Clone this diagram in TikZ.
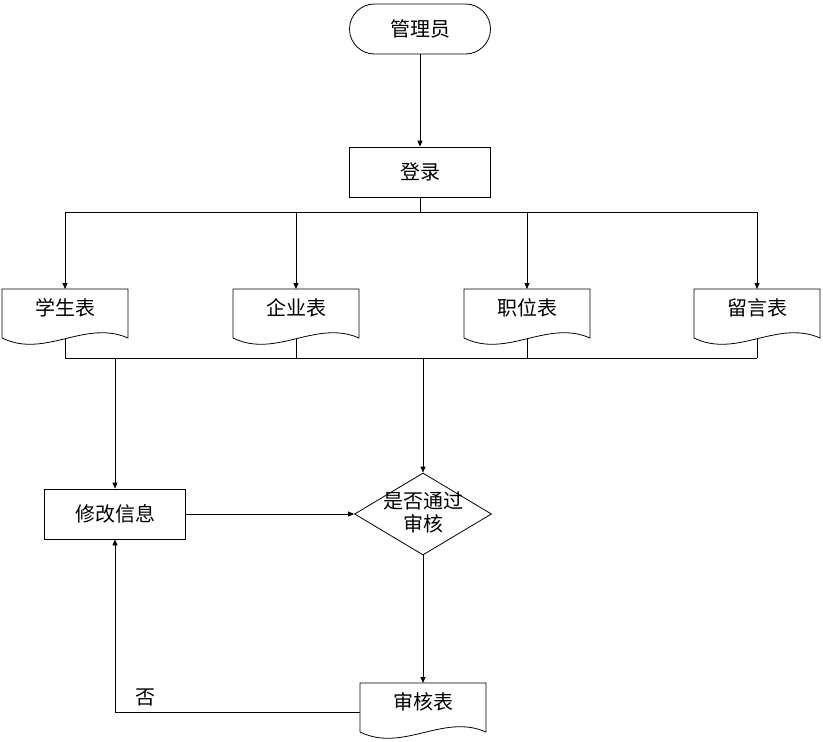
\documentclass[tikz,border=0pt]{standalone}
\usepackage{fontspec}
\setmainfont{Noto Sans CJK SC}
\usetikzlibrary{shapes.geometric,arrows.meta}
\newcommand\mydoc[4]{%
  \node[draw=none,minimum width=126pt,minimum height=49pt,anchor=north,inner sep=0] (#1) at (#2,#3) {};
  \node[txt] at (#2,#3+19) {#4};
  \draw[line] (#2-63,#3+49) -- (#2-63,#3) -- (#2+63,#3) -- (#2+63,#3+49)
     .. controls (#2+20,#3+30) and (#2-20,#3+70) .. (#2-63,#3+49);
  \coordinate (#1b) at (#2,#3+50);
}
\begin{document}
\begin{tikzpicture}[x=1pt,y=-1pt,
  line/.style={draw=black,line width=0.8pt},
  txt/.style={font=\fontsize{20}{23}\selectfont,inner sep=0},
  box/.style={line,minimum width=141pt,minimum height=50pt,inner sep=0,font=\fontsize{20}{23}\selectfont},
  arr/.style={line,-{Triangle[length=6pt,width=5pt]}}]
\useasboundingbox (0,0) rectangle (823,742);
\node[box,rounded corners=25pt] (adm) at (420,29) {管理员};
\node[box] (login) at (420,172) {登录};
\mydoc{d1}{65}{289}{学生表}
\mydoc{d2}{296}{289}{企业表}
\mydoc{d3}{527}{289}{职位表}
\mydoc{d4}{757}{289}{留言表}
\node[box] (mod) at (115,514) {修改信息};
\node[line,diamond,aspect=1.67,minimum width=137pt,minimum height=82pt,inner sep=0] (dia) at (423,514) {};
\node[txt,align=center] at (423,512) {是否通过\\审核};
\mydoc{d5}{423}{683}{审核表}
\coordinate (bus1) at (420,212);
\coordinate (bus2) at (420,358);
\draw[arr] (adm) -- (login);
\draw[line] (login.south) -- (bus1);
\draw[line] (d1.north |- bus1) -- (d4.north |- bus1);
\foreach \d in {d1,d2,d3,d4}{\draw[arr] (\d.north |- bus1) -- (\d.north);}
\foreach \d in {d1,d2,d3,d4}{\draw[line] (\d b) -- (\d b |- bus2);}
\draw[line] (d1b |- bus2) -- (d4b |- bus2);
\draw[arr] (mod.north |- bus2) -- (mod.north);
\draw[arr] (dia.north |- bus2) -- (dia.north);
\draw[arr] (mod.east) -- (dia.west);
\draw[arr] (dia.south) -- (d5.north);
\draw[arr] (d5.west |- 0,712) -- (mod.south |- 0,712) -- (mod.south);
\node[txt] at (145,697) {否};
\end{tikzpicture}
\end{document}
